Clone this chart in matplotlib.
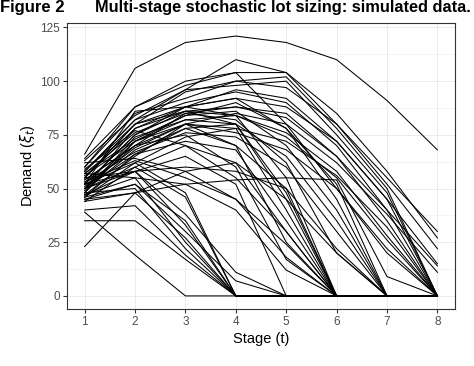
import numpy as np
import matplotlib.pyplot as plt
from matplotlib.ticker import MultipleLocator

plt.rcParams['font.family'] = ['Liberation Sans', 'DejaVu Sans']

# Simulated demand paths, one row per scenario, stages 1..8
stages = [1, 2, 3, 4, 5, 6, 7, 8]
paths = [
    [39, 19, 0, 0, 0, 0, 0, 0],
    [35, 35, 17, 0, 0, 0, 0, 0],
    [52, 62, 48, 0, 0, 0, 0, 0],
    [50, 60, 46, 0, 0, 0, 0, 0],
    [46, 52, 35, 0, 0, 0, 0, 0],
    [55, 58, 33, 0, 0, 0, 0, 0],
    [44, 48, 27, 0, 0, 0, 0, 0],
    [57, 55, 25, 0, 0, 0, 0, 0],
    [48, 50, 22, 0, 0, 0, 0, 0],
    [40, 42, 19, 0, 0, 0, 0, 0],
    [50, 58, 38, 11, 0, 0, 0, 0],
    [45, 52, 30, 7, 0, 0, 0, 0],
    [47, 58, 65, 52, 0, 0, 0, 0],
    [54, 70, 75, 60, 17, 0, 0, 0],
    [50, 66, 72, 68, 35, 0, 0, 0],
    [47, 65, 80, 78, 40, 0, 0, 0],
    [56, 72, 82, 80, 48, 0, 0, 0],
    [52, 75, 86, 84, 55, 0, 0, 0],
    [44, 60, 70, 62, 30, 0, 0, 0],
    [58, 80, 86, 80, 45, 0, 0, 0],
    [49, 68, 78, 70, 25, 0, 0, 0],
    [53, 63, 55, 45, 24, 0, 0, 0],
    [47, 55, 52, 40, 12, 0, 0, 0],
    [51, 69, 80, 70, 50, 0, 0, 0],
    [59, 77, 70, 55, 30, 0, 0, 0],
    [62, 64, 58, 45, 18, 0, 0, 0],
    [55, 78, 88, 92, 78, 45, 0, 0],
    [50, 72, 84, 86, 70, 40, 0, 0],
    [46, 66, 78, 80, 65, 35, 0, 0],
    [52, 58, 60, 58, 50, 22, 0, 0],
    [57, 76, 85, 82, 62, 20, 0, 0],
    [57, 73, 84, 90, 78, 52, 0, 0],
    [53, 67, 76, 74, 60, 30, 0, 0],
    [23, 48, 58, 62, 45, 20, 0, 0],
    [45, 48, 52, 54, 55, 54, 9, 0],
    [58, 82, 90, 95, 90, 70, 40, 0],
    [55, 80, 88, 96, 92, 72, 45, 0],
    [50, 78, 86, 88, 85, 65, 35, 0],
    [48, 74, 82, 84, 76, 58, 28, 0],
    [60, 85, 92, 100, 102, 78, 50, 0],
    [54, 70, 80, 76, 68, 50, 22, 0],
    [46, 62, 74, 78, 72, 56, 32, 0],
    [52, 86, 88, 84, 74, 55, 26, 0],
    [64, 88, 100, 104, 80, 50, 20, 0],
    [63, 84, 96, 98, 100, 75, 48, 0],
    [66, 106, 118, 121, 118, 110, 91, 68],
    [58, 82, 96, 110, 104, 80, 55, 30],
    [60, 88, 98, 104, 104, 85, 58, 27],
    [55, 80, 95, 100, 97, 80, 52, 22],
    [52, 75, 88, 92, 88, 72, 45, 15],
    [50, 70, 85, 88, 83, 65, 40, 14],
    [48, 72, 80, 85, 80, 62, 38, 11],
]

fig = plt.figure(figsize=(4.74, 3.66), dpi=100)
ax = fig.add_axes([0.1414, 0.156, 0.8186, 0.781])

for p in paths:
    ax.plot(stages, p, color='black', lw=0.75)

ax.set_xlim(0.65, 8.35)
ax.set_ylim(-6.05, 127.05)
ax.set_xticks(stages)
ax.yaxis.set_major_locator(MultipleLocator(25))
ax.yaxis.set_minor_locator(MultipleLocator(12.5))

ax.grid(True, which='major', color='#ebebeb', lw=0.7)
ax.grid(True, which='minor', axis='y', color='#ebebeb', lw=0.4)
ax.set_axisbelow(True)
for s in ax.spines.values():
    s.set_color('#333333')
    s.set_linewidth(0.8)
ax.tick_params(which='major', length=3, color='#333333', labelcolor='#4d4d4d', labelsize=8.5, pad=2)
ax.tick_params(which='minor', length=0)

ax.set_xlabel('Stage (t)', fontsize=10.5, labelpad=3)
ax.set_ylabel(r'Demand ($\xi_t$)', fontsize=10.5, labelpad=2)

fig.text(0.0, 0.966, 'Figure 2', fontsize=12, fontweight='bold', va='baseline')
fig.text(0.2, 0.966, 'Multi-stage stochastic lot sizing: simulated data.', fontsize=11.8,
         fontweight='bold', va='baseline')

fig.savefig('out.png', dpi=100)
